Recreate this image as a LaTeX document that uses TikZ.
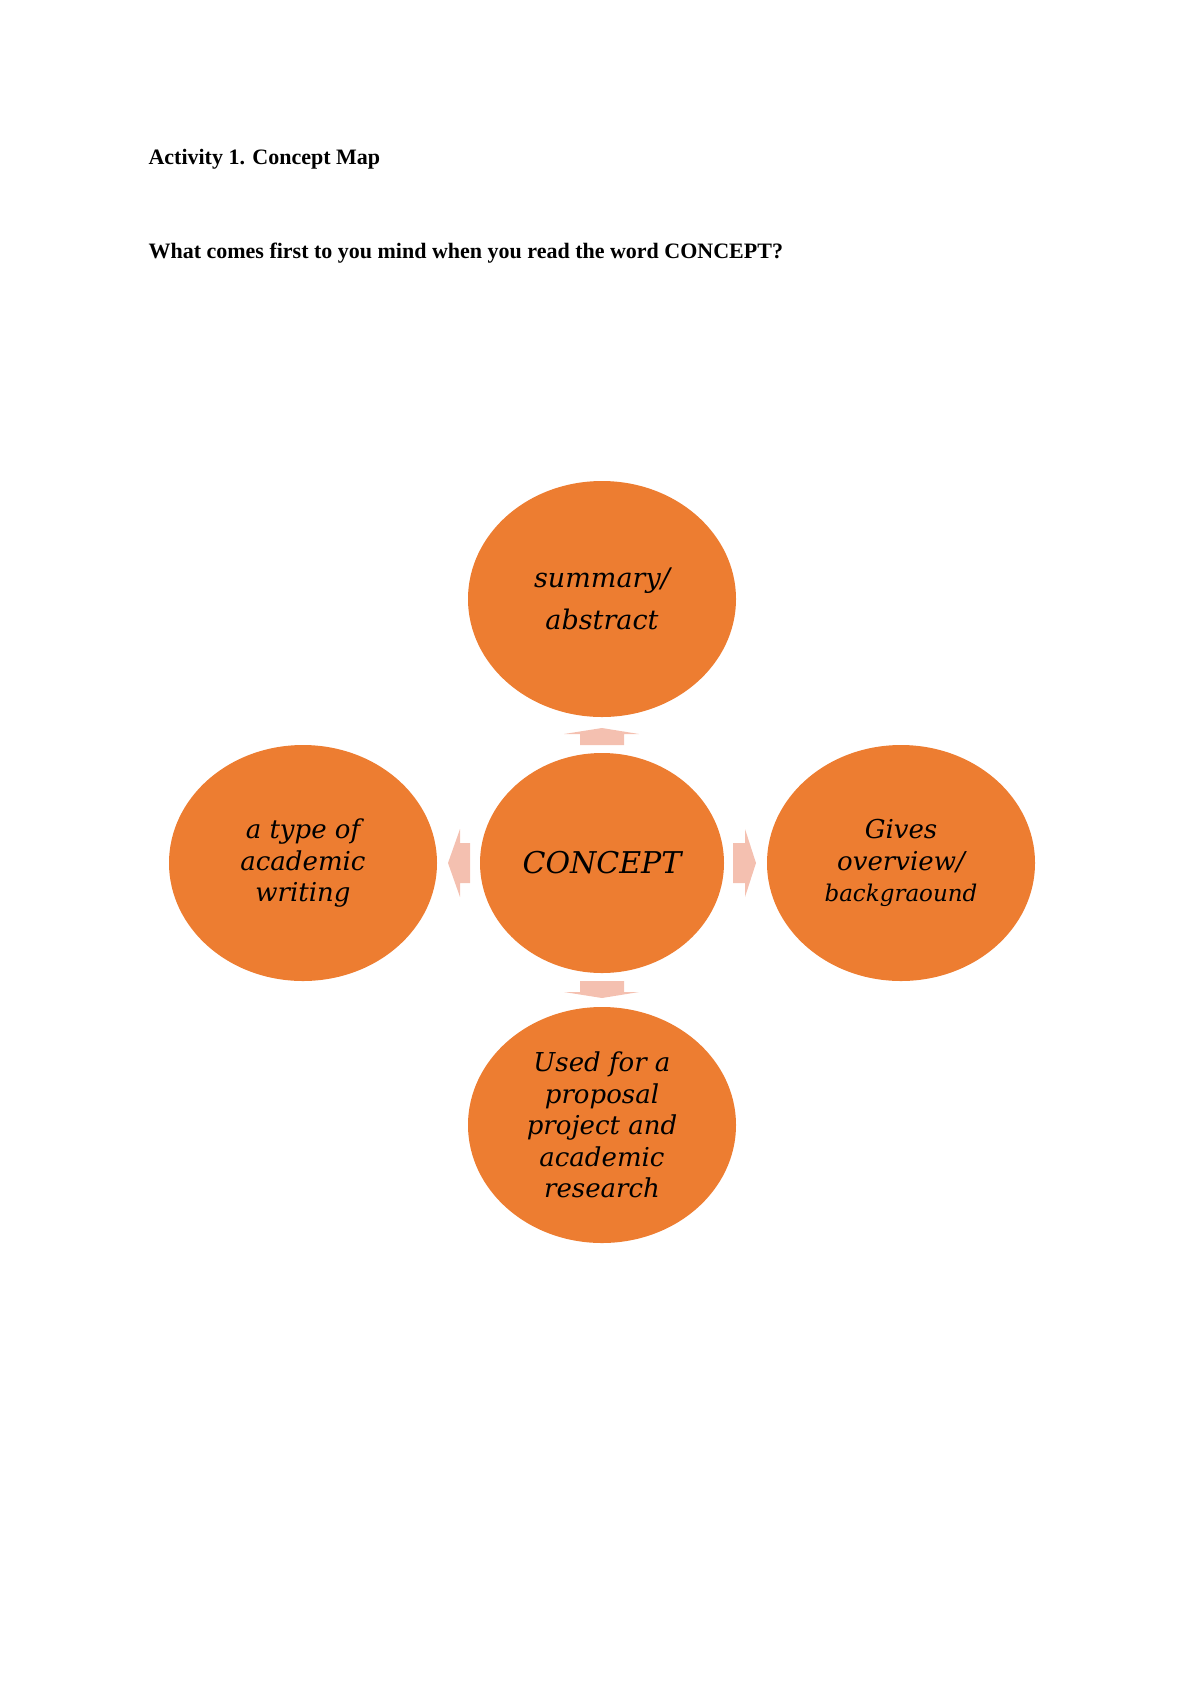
\documentclass[tikz,border=0pt]{standalone}
\usepackage{fontspec}
\setmainfont{DejaVu Serif}
\newfontfamily\titlefont{Liberation Serif}
\begin{document}
\begin{tikzpicture}[x=1pt,y=-1pt,
  bub/.style={ellipse,fill=corg,draw=none,minimum width=268pt,minimum height=236pt,inner sep=0pt},
  btxt/.style={font=\fontsize{26}{31.5}\selectfont\itshape,align=center,text=black},
  blk/.style={fill=clight,draw=none}]
\definecolor{corg}{HTML}{ED7D31}
\definecolor{clight}{HTML}{F4C0B0}
\usetikzlibrary{shapes.geometric}
\useasboundingbox (0,0) rectangle (1200,1698);
\node[anchor=west,font=\titlefont\bfseries\fontsize{22}{26}\selectfont] (t1) at (145,159) {Activity 1. Concept Map};
\node[anchor=west,font=\titlefont\bfseries\fontsize{22}{26}\selectfont] (t2) at (145,253) {What comes first to you mind when you read the word CONCEPT?};
\node[bub] (top) at (602,599) {};
\node[btxt,font=\fontsize{27}{42}\selectfont\itshape] at (top) {summary/\\abstract};
\node[bub,minimum width=244pt,minimum height=220pt] (c) at (602,863) {};
\node[btxt,font=\fontsize{30}{36}\selectfont\itshape] at (c) {CONCEPT};
\node[bub] (l) at (303,863) {};
\node[btxt] at (l) {a type of\\academic\\writing};
\node[bub] (r) at (901,863) {};
\node[btxt] at (r) {Gives\\overview/\\{\fontsize{23}{28}\selectfont backgraound}};
\node[bub] (b) at (602,1125) {};
\node[btxt] at (b) {Used for a\\proposal\\project and\\academic\\research};
% arrows
\fill[blk] (580,745) -- (580,734) -- (564,734) -- (602,728) -- (639,734) -- (624,734) -- (624,745) -- cycle;
\fill[blk] (580,981) -- (580,992) -- (564,992) -- (602,998) -- (639,992) -- (624,992) -- (624,981) -- cycle;
\fill[blk] (470,843) -- (460,843) -- (460,829) -- (448,863) -- (460,897) -- (460,883) -- (470,883) -- cycle;
\fill[blk] (733,843) -- (745,843) -- (745,829) -- (756,863) -- (745,897) -- (745,883) -- (733,883) -- cycle;
\end{tikzpicture}
\end{document}
